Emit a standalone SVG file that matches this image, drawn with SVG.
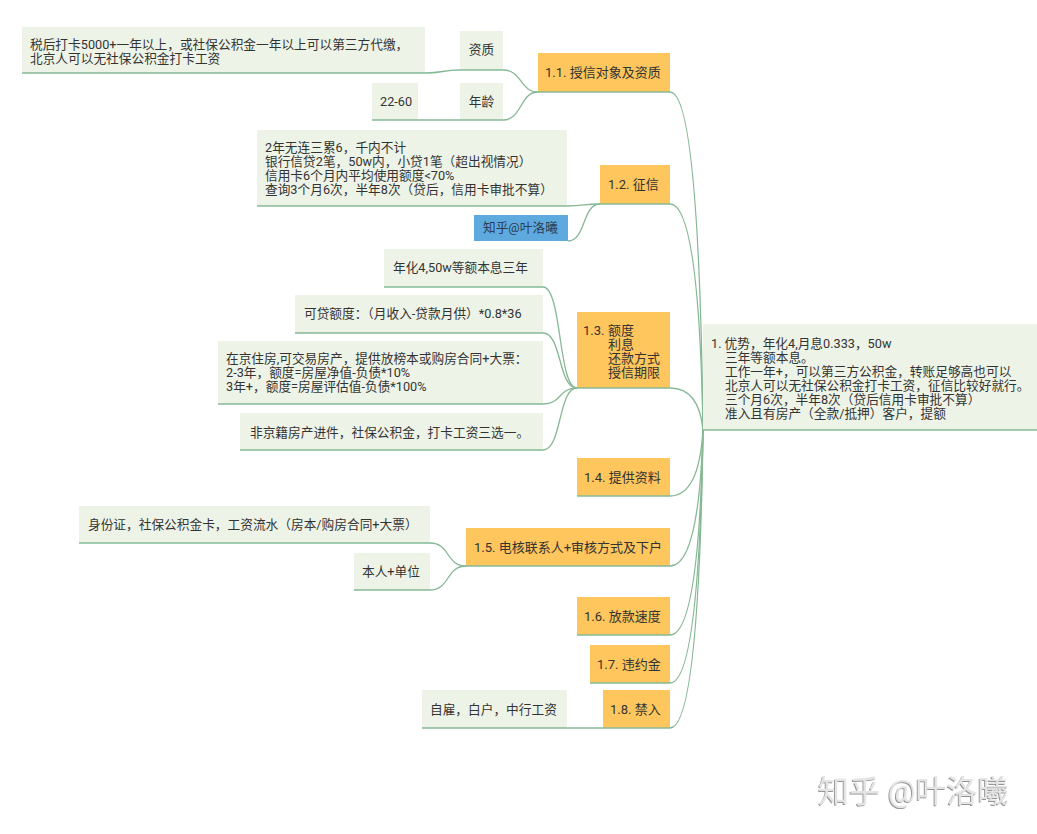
<svg xmlns="http://www.w3.org/2000/svg" width="1037" height="834" viewBox="0 0 1037 834">
<defs>
<style>
text{font-family:Roboto,"Noto Sans CJK SC","Noto Sans",sans-serif;font-size:12.7px;fill:#333}
.bt{font-size:13px}
.leaf{fill:#eef3e8}
.br{fill:#fec65c}
.blue{fill:#5eaadf}
.ul{stroke:#86b894;stroke-width:1.3;fill:none}
.cn path{stroke:#86b894;stroke-width:1.3;fill:none}
.wm{font-size:31px;fill:#e4e4e4}
</style>
<filter id="emb" x="-5%" y="-20%" width="110%" height="140%">
<feDropShadow dx="-1" dy="1" stdDeviation="0.4" flood-color="#8a8a8a" flood-opacity="0.9"/>
</filter>
</defs>
<rect width="1037" height="834" fill="#fff"/>

<g id="connectors" class="cn">
<path d="M670,92 Q699,92 703,430"/>
<path d="M670,204 Q699,204 703,430"/>
<path d="M670,388 Q699,388 703,430"/>
<path d="M670,496 Q699,496 703,430"/>
<path d="M670,566 Q699,566 703,430"/>
<path d="M670,635 Q699,635 703,430"/>
<path d="M670,683 Q699,683 703,430"/>
<path d="M670,728 Q699,728 703,430"/>
<path d="M503,70 C522,70 520,92 538,92"/>
<path d="M503,120 C522,120 520,92 538,92"/>
<path d="M425,73 C443,73 442,70 460,70"/>
<path d="M418,120 L460,120"/>
<path d="M567,206 C585,206 583,204 600,204"/>
<path d="M568,241 C586,241 582,204 600,204"/>
<path d="M543,287 C562,287 558,388 577,388"/>
<path d="M543,333 C562,333 558,388 577,388"/>
<path d="M543,404 C562,404 558,388 577,388"/>
<path d="M543,450 C562,450 558,388 577,388"/>
<path d="M430,543 C450,543 446,566 466,566"/>
<path d="M430,590 C450,590 446,566 466,566"/>
<path d="M567,728 L603,728"/>
</g>

<g id="root">
<rect class="leaf" x="703" y="324" width="334" height="106"/>
<line class="ul" x1="703" y1="430" x2="1037" y2="430"/>
<text x="711" y="348">1. 优势，年化4,月息0.333，50w</text>
<text x="725" y="362">三年等额本息。</text>
<text x="725" y="376">工作一年+，可以第三方公积金，转账足够高也可以</text>
<text x="725" y="390">北京人可以无社保公积金打卡工资，征信比较好就行。</text>
<text x="725" y="404">三个月6次，半年8次（贷后信用卡审批不算）</text>
<text x="725" y="418">准入且有房产（全款/抵押）客户，提额</text>
</g>

<g id="n1_1">
<rect class="br" x="538" y="53" width="132" height="39"/>
<line class="ul" x1="538" y1="92" x2="670" y2="92"/>
<text class="bt" x="545" y="77">1.1. 授信对象及资质</text>
</g>
<g id="n1_1_zz">
<rect class="leaf" x="460" y="31" width="43" height="39"/>
<line class="ul" x1="460" y1="70" x2="503" y2="70"/>
<text x="481.5" y="53.5" text-anchor="middle">资质</text>
</g>
<g id="n1_1_zz_1">
<rect class="leaf" x="22" y="27" width="403" height="46"/>
<line class="ul" x1="22" y1="73" x2="425" y2="73"/>
<text x="30" y="48.5">税后打卡5000+一年以上，或社保公积金一年以上可以第三方代缴，</text>
<text x="30" y="62.5">北京人可以无社保公积金打卡工资</text>
</g>
<g id="n1_1_nl">
<rect class="leaf" x="460" y="83" width="43" height="37"/>
<line class="ul" x1="460" y1="120" x2="503" y2="120"/>
<text x="481.5" y="105.5" text-anchor="middle">年龄</text>
</g>
<g id="n1_1_nl_1">
<rect class="leaf" x="372" y="83" width="46" height="37"/>
<line class="ul" x1="372" y1="120" x2="418" y2="120"/>
<text x="380" y="105.5">22-60</text>
</g>

<g id="n1_2">
<rect class="br" x="600" y="165" width="70" height="39"/>
<line class="ul" x1="600" y1="204" x2="670" y2="204"/>
<text class="bt" x="608" y="189">1.2. 征信</text>
</g>
<g id="n1_2_a">
<rect class="leaf" x="257" y="130" width="310" height="76"/>
<line class="ul" x1="257" y1="206" x2="567" y2="206"/>
<text x="265" y="151.5">2年无连三累6，千内不计</text>
<text x="265" y="165.5">银行信贷2笔，50w内，小贷1笔（超出视情况）</text>
<text x="265" y="179.5">信用卡6个月内平均使用额度&lt;70%</text>
<text x="265" y="193.5">查询3个月6次，半年8次（贷后，信用卡审批不算）</text>
</g>
<g id="n1_2_b">
<rect class="blue" x="474" y="215" width="94" height="26"/>
<text x="483" y="232" style="fill:#2a3d52">知乎@叶洛曦</text>
</g>

<g id="n1_3">
<rect class="br" x="577" y="312" width="93" height="76"/>
<line class="ul" x1="577" y1="388" x2="670" y2="388"/>
<text class="bt" x="583" y="334.5">1.3. </text>
<text class="bt" x="608" y="334.5">额度</text>
<text class="bt" x="608" y="348.5">利息</text>
<text class="bt" x="608" y="362.5">还款方式</text>
<text class="bt" x="608" y="376.5">授信期限</text>
</g>
<g id="n1_3_a">
<rect class="leaf" x="384" y="249" width="159" height="38"/>
<line class="ul" x1="384" y1="287" x2="543" y2="287"/>
<text x="393" y="271.5">年化4,50w等额本息三年</text>
</g>
<g id="n1_3_b">
<rect class="leaf" x="295" y="295" width="248" height="38"/>
<line class="ul" x1="295" y1="333" x2="543" y2="333"/>
<text x="304" y="317.5">可贷额度：（月收入-贷款月供）*0.8*36</text>
</g>
<g id="n1_3_c">
<rect class="leaf" x="218" y="341" width="325" height="63"/>
<line class="ul" x1="218" y1="404" x2="543" y2="404"/>
<text x="226" y="363">在京住房,可交易房产，提供放榜本或购房合同+大票：</text>
<text x="226" y="377">2-3年，额度=房屋净值-负债*10%</text>
<text x="226" y="391">3年+，额度=房屋评估值-负债*100%</text>
</g>
<g id="n1_3_d">
<rect class="leaf" x="240" y="413" width="303" height="37"/>
<line class="ul" x1="240" y1="450" x2="543" y2="450"/>
<text x="250" y="436.5">非京籍房产进件，社保公积金，打卡工资三选一。</text>
</g>

<g id="n1_4">
<rect class="br" x="577" y="458" width="93" height="38"/>
<line class="ul" x1="577" y1="496" x2="670" y2="496"/>
<text class="bt" x="584" y="481.5">1.4. 提供资料</text>
</g>

<g id="n1_5">
<rect class="br" x="466" y="528" width="204" height="38"/>
<line class="ul" x1="466" y1="566" x2="670" y2="566"/>
<text class="bt" x="474" y="551.5">1.5. 电核联系人+审核方式及下户</text>
</g>
<g id="n1_5_a">
<rect class="leaf" x="79" y="506" width="351" height="37"/>
<line class="ul" x1="79" y1="543" x2="430" y2="543"/>
<text x="88" y="528.5">身份证，社保公积金卡，工资流水（房本/购房合同+大票）</text>
</g>
<g id="n1_5_b">
<rect class="leaf" x="354" y="553" width="76" height="37"/>
<line class="ul" x1="354" y1="590" x2="430" y2="590"/>
<text x="362" y="575.5">本人+单位</text>
</g>

<g id="n1_6">
<rect class="br" x="577" y="597" width="93" height="38"/>
<line class="ul" x1="577" y1="635" x2="670" y2="635"/>
<text class="bt" x="584" y="620.5">1.6. 放款速度</text>
</g>
<g id="n1_7">
<rect class="br" x="590" y="645" width="80" height="38"/>
<line class="ul" x1="590" y1="683" x2="670" y2="683"/>
<text class="bt" x="597" y="668.5">1.7. 违约金</text>
</g>
<g id="n1_8">
<rect class="br" x="603" y="690" width="67" height="38"/>
<line class="ul" x1="603" y1="728" x2="670" y2="728"/>
<text class="bt" x="610" y="713.5">1.8. 禁入</text>
</g>
<g id="n1_8_a">
<rect class="leaf" x="422" y="690" width="145" height="38"/>
<line class="ul" x1="422" y1="728" x2="567" y2="728"/>
<text x="430" y="713.5">自雇，白户，中行工资</text>
</g>

<text class="wm" x="818" y="802" filter="url(#emb)">知乎 @叶洛曦</text>
</svg>
